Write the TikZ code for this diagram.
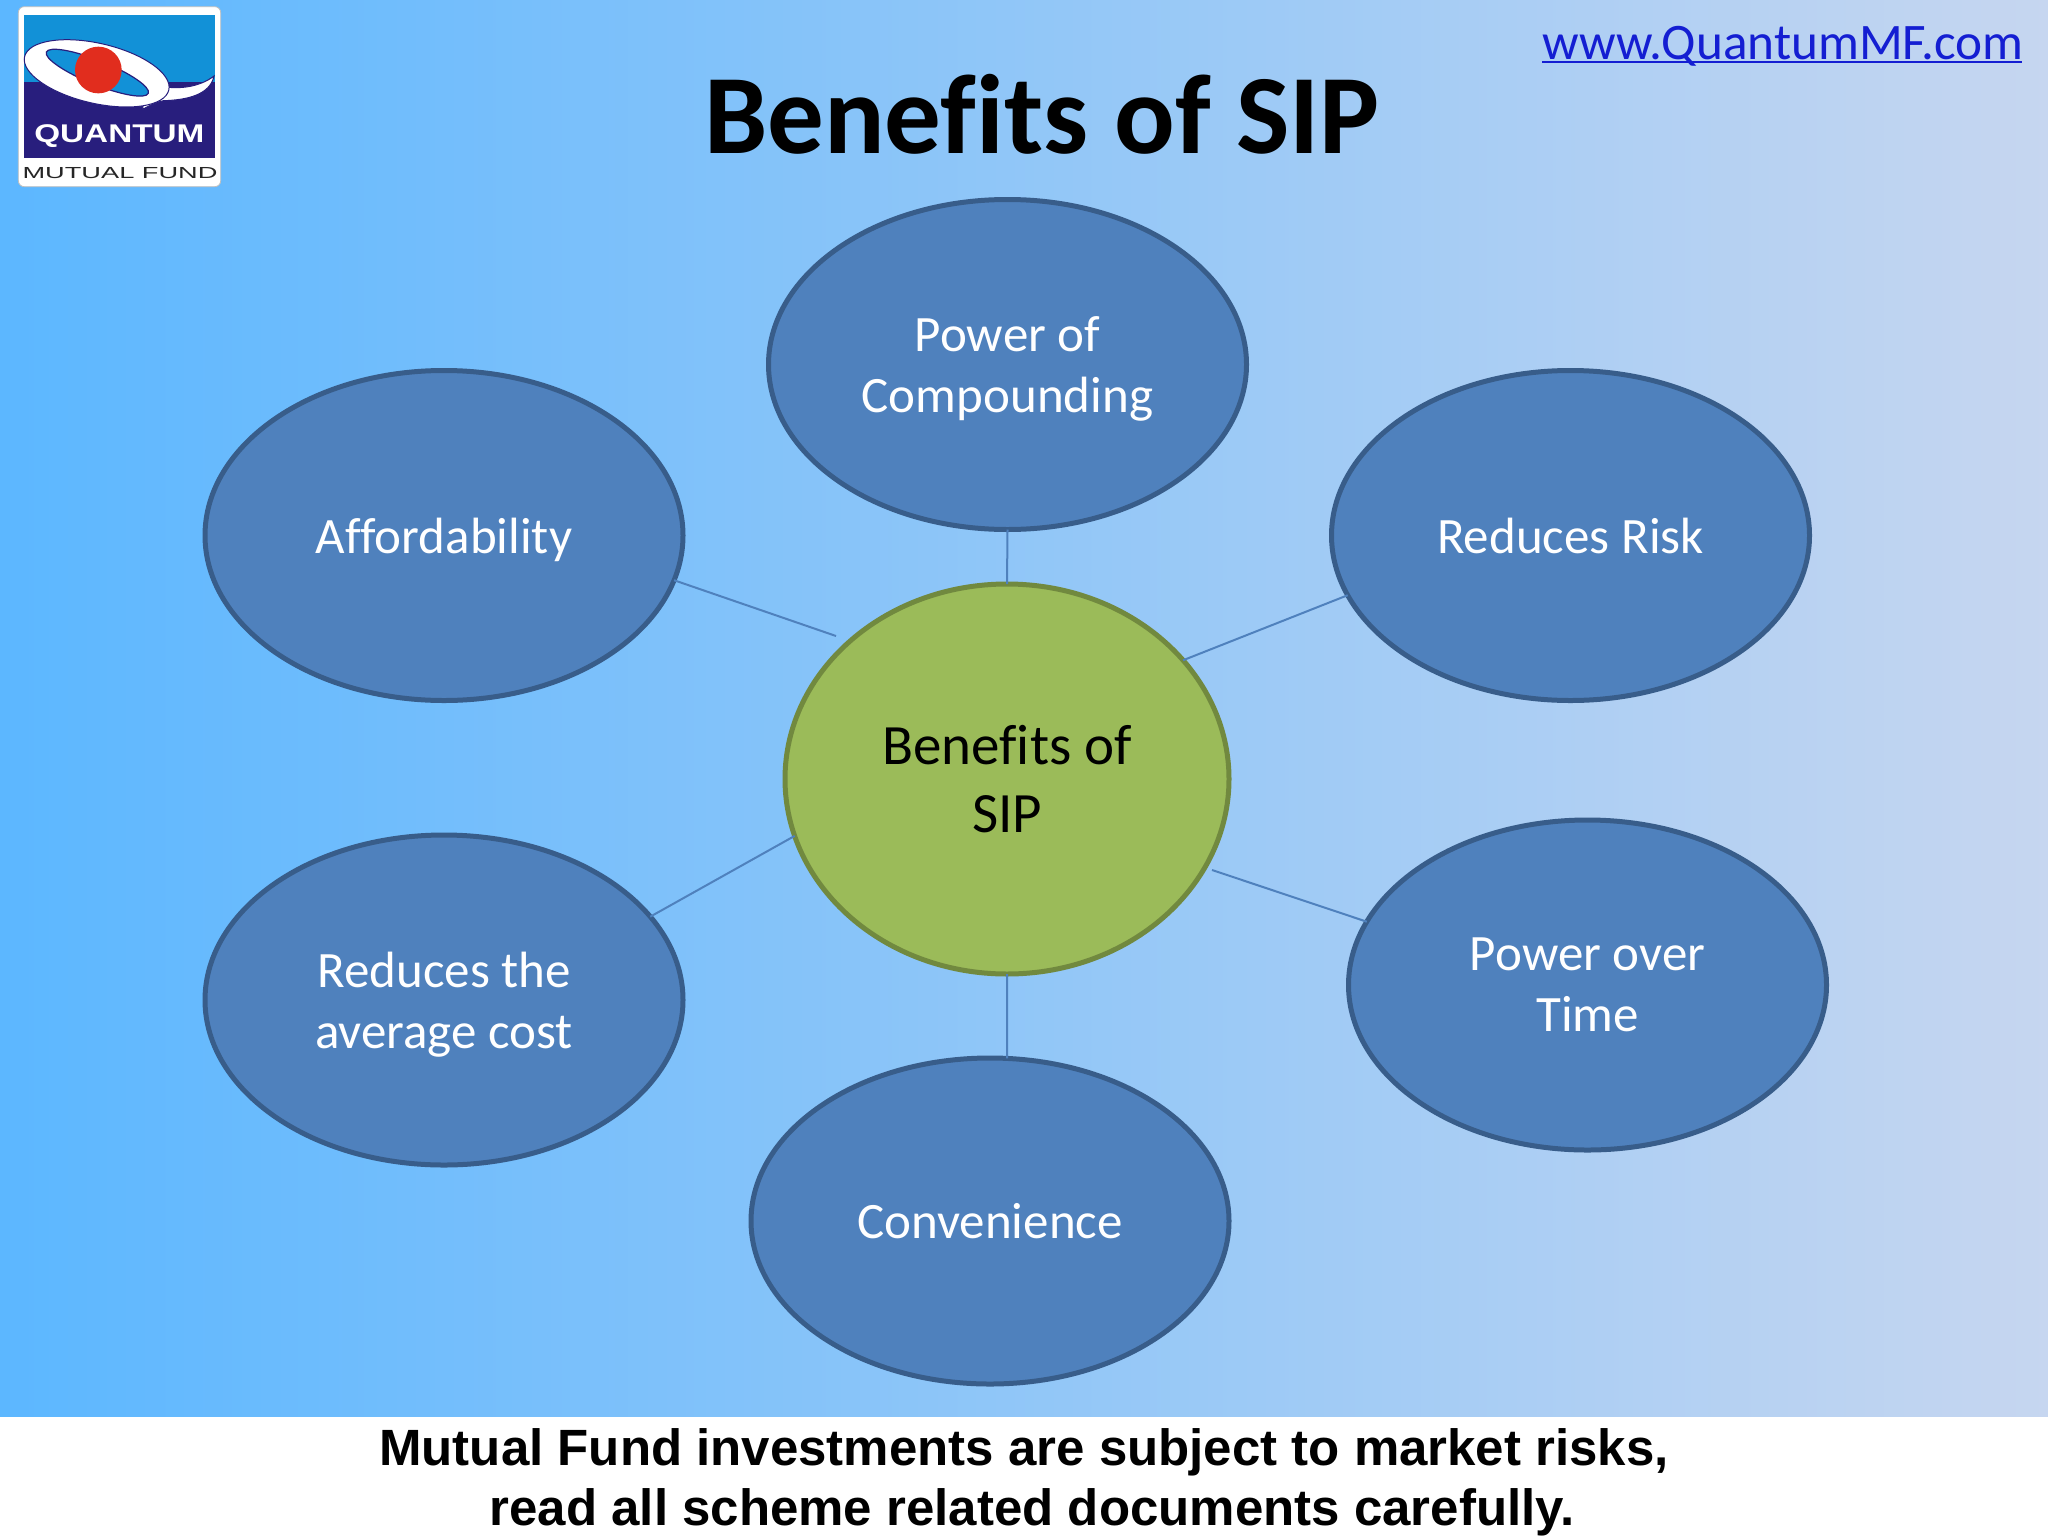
\documentclass[tikz,border=0pt]{standalone}
\usepackage{fontspec}
\setmainfont{Carlito}[Ligatures=NoCommon]
\newfontfamily\arialf{Liberation Sans}
\usetikzlibrary{shapes.geometric}
\definecolor{bgl}{RGB}{92,183,255}
\definecolor{bgm}{RGB}{165,208,250}
\definecolor{bgr}{RGB}{198,214,240}
\definecolor{bluefill}{HTML}{4F81BD}
\definecolor{blueline}{HTML}{385D8A}
\definecolor{greenfill}{HTML}{9BBB59}
\definecolor{greenline}{HTML}{71893F}
\definecolor{linkc}{RGB}{20,30,210}
\definecolor{logob}{RGB}{18,145,215}
\definecolor{logon}{RGB}{40,30,125}
\definecolor{logor}{RGB}{225,45,30}
\tikzset{
  benefit/.style={ellipse,draw=blueline,fill=bluefill,line width=2.5pt,minimum width=239pt,minimum height=165pt,inner sep=0pt,outer sep=0pt,text=white,align=center,font=\fontsize{25.5}{30.7}\selectfont},
  hub/.style={ellipse,draw=greenline,fill=greenfill,line width=2.5pt,minimum width=222pt,minimum height=195pt,inner sep=0pt,outer sep=0pt,text=black,align=center,font=\fontsize{28.5}{34}\selectfont},
  spoke/.style={draw=bluefill,line width=1pt},
}
\begin{document}
\begin{tikzpicture}[x=0.5pt,y=-0.5pt]
\useasboundingbox (0,0) rectangle (2048,1536);
\fill[white] (0,0) rectangle (2048,1536);
\path[left color=bgl,middle color=bgm,right color=bgr,shading angle=90] (0,0) rectangle (2048,1416);
% logo
\begin{scope}[x=0.1667pt,y=-0.1667pt]
\fill[white,draw=black!25,line width=0.4pt,rounded corners=3pt] (55,20) rectangle (662,560);
\fill[logob] (72,45) rectangle (645,260);
\fill[logon] (72,245) rectangle (645,475);
\fill[white,draw=logon,line width=0.5pt] (478,258) .. controls (540,270) and (600,260) .. (642,228) .. controls (630,285) and (560,300) .. (490,302) .. controls (465,308) and (445,318) .. (428,328) .. controls (428,310) and (435,295) .. (445,285) -- cycle;
\fill[white,draw=logon,line width=0.5pt,rotate around={-13:(290,220)}] (290,220) ellipse [x radius=222,y radius=90];
\fill[logob,draw=logon,line width=0.6pt,rotate around={-22:(292,218)}] (292,218) ellipse [x radius=165,y radius=36];
\fill[logor] (295,210) circle [radius=70];
\node[inner sep=0pt,font=\arialf\bfseries\fontsize{12.8}{13}\selectfont,text=white,xscale=1.3] (logoq) at (358,407) {QUANTUM};
\node[inner sep=0pt,font=\arialf\fontsize{8}{9}\selectfont,text=black!85,xscale=1.7] (logom) at (360,518) {MUTUAL FUND};
\end{scope}
% titles
\node[inner sep=0pt,font=\bfseries\fontsize{56.5}{60}\selectfont] (title) at (1042,114) {Benefits of SIP};
\node[inner sep=0pt,font=\fontsize{25.6}{30}\selectfont,text=linkc] (link) at (1783,46) {www.QuantumMF.com};
\coordinate (linka) at (1542,62);
\coordinate (linkb) at (2022,62);
\draw[linkc,line width=1.2pt] (linka) -- (linkb);
% nodes
\node[benefit] (power) at (1007.5,364.5) {Power of\\\smash{Compounding}};
\node[benefit] (afford) at (444,535.5) {\raisebox{0pt}[\height][0pt]{Affordability}};
\node[benefit] (risk) at (1570.5,535.5) {Reduces Risk};
\node[benefit] (cost) at (444,1000) {Reduces the\\\smash{average cost}};
\node[benefit] (time) at (1587.5,985) {Power over\\Time};
\node[benefit,minimum height=163pt] (conv) at (990,1221) {Convenience};
\node[hub] (center) at (1007,779) {Benefits of\\SIP};
% connectors
\coordinate (gapa) at (836,636);
\coordinate (gapt) at (1212,870);
\draw[spoke] (power.south) -- (center.north);
\draw[spoke] (afford.-11.4) -- (gapa);
\draw[spoke] (risk.195) -- (center.34.6);
\draw[spoke] (cost.22.7) -- (center.195.5);
\draw[spoke] (time.164) -- (gapt);
\draw[spoke] (center.south) -- (conv.84);
% footer
\node[inner sep=0pt,align=center,font=\arialf\bfseries\fontsize{25.5}{30}\selectfont] (foot) at (1024,1482) {Mutual Fund investments are subject to market risks,\\\hspace*{8pt}read all scheme related documents carefully.};
\end{tikzpicture}
\end{document}
